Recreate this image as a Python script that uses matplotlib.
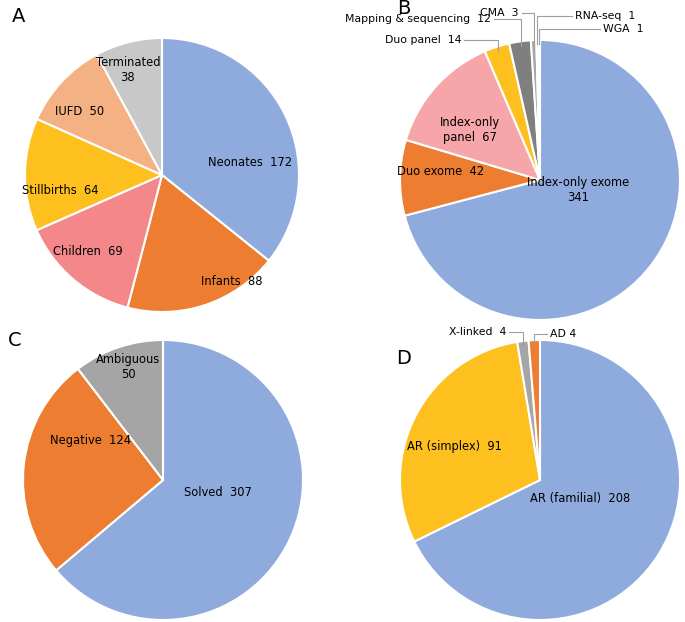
import matplotlib
matplotlib.use("Agg")
import matplotlib.pyplot as plt
import numpy as np

W, H = 685, 622

a_labels = ["Neonates  172", "Infants  88", "Children  69", "Stillbirths  64", "IUFD  50", "Terminated\n38"]
a_vals = [172, 88, 69, 64, 50, 38]
a_cols = ["#8FAADC", "#ED7D31", "#F4878A", "#FDC01E", "#F4B183", "#C8C8C8"]
a_pos = [(0.64, 0.09), (0.51, -0.78), (-0.54, -0.56), (-0.74, -0.11), (-0.60, 0.46), (-0.25, 0.77)]

b_labels = ["Index-only exome\n341", "Duo exome  42", "Index-only\npanel  67", "Duo panel  14",
            "Mapping & sequencing  12", "CMA  3", "RNA-seq  1", "WGA  1"]
b_vals = [341, 42, 67, 14, 12, 3, 1, 1]
b_cols = ["#8FAADC", "#ED7D31", "#F6A5A8", "#FDC01E", "#7F7F7F", "#A5A5A5", "#BFBFBF", "#70AD47"]
b_pos = [(0.27, -0.07), (-0.71, 0.06), (-0.50, 0.36), (-0.54, 1.00),
         (-0.33, 1.15), (-0.13, 1.19), (0.23, 1.17), (0.43, 1.08)]
b_outside = [False, False, False, True, True, True, True, True]

c_labels = ["Solved  307", "Negative  124", "Ambiguous\n50"]
c_vals = [307, 124, 50]
c_cols = ["#8FAADC", "#ED7D31", "#A5A5A5"]
c_pos = [(0.39, -0.09), (-0.52, 0.28), (-0.25, 0.81)]

d_labels = ["AR (familial)  208", "AR (simplex)  91", "X-linked  4", "AD 4"]
d_vals = [208, 91, 4, 4]
d_cols = ["#8FAADC", "#FDC01E", "#A5A5A5", "#ED7D31"]
d_pos = [(-0.22, 1.06), (0.05, 1.04)]
d_pos = [(0.29, -0.13), (-0.61, 0.24)] + d_pos
d_outside = [False, False, True, True]

fig = plt.figure(figsize=(W / 100, H / 100), dpi=100)


def panel(cx, cy, r, vals, cols, labels, pos, outside=None, letter="", lpos=(0, 0)):
    ax = fig.add_axes([(cx - r) / W, 1 - (cy + r) / H, 2 * r / W, 2 * r / H])
    wedges, _ = ax.pie(vals, colors=cols, startangle=90, counterclock=False,
                       wedgeprops=dict(edgecolor="white", linewidth=1.5))
    ax.set_xlim(-1, 1); ax.set_ylim(-1, 1)
    for i, (w, lab, (x, y)) in enumerate(zip(wedges, labels, pos)):
        if outside and outside[i]:
            th = np.deg2rad((w.theta1 + w.theta2) / 2)
            ex, ey = 0.97 * np.cos(th), 0.97 * np.sin(th)
            ax.plot([ex, ex, x], [ey, y, y], color="#A0A0A0", lw=0.8, clip_on=False)
            ha = "left" if x > ex else "right"
            ax.text(x + (0.02 if ha == "left" else -0.02), y, lab, ha=ha, va="center",
                    fontsize=7.8, clip_on=False)
        else:
            ax.text(x, y, lab, ha="center", va="center", fontsize=8.3)
    fig.text(lpos[0] / W, 1 - lpos[1] / H, letter, fontsize=14, ha="left", va="center")
    return ax


panel(162, 175, 137, a_vals, a_cols, a_labels, a_pos, letter="A", lpos=(12, 16))
panel(540, 180, 140, b_vals, b_cols, b_labels, b_pos, b_outside, letter="B", lpos=(397, 9))
panel(163, 480, 140, c_vals, c_cols, c_labels, c_pos, letter="C", lpos=(8, 341))
panel(540, 480, 140, d_vals, d_cols, d_labels, d_pos, d_outside, letter="D", lpos=(396, 358))

fig.savefig("out.png", dpi=100)
